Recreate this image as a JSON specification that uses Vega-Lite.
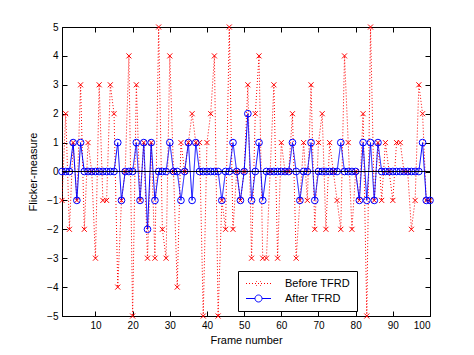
{
  "$schema": "https://vega.github.io/schema/vega-lite/v6.json",
  "width": 368,
  "height": 289,
  "autosize": {"type": "none"},
  "padding": {"left": 62, "top": 27, "right": 44, "bottom": 39},
  "background": "white",
  "config": {
    "view": {"stroke": "black", "strokeWidth": 1},
    "font": "Liberation Sans",
    "axis": {
      "grid": false,
      "domainColor": "black",
      "tickColor": "black",
      "labelColor": "black",
      "titleColor": "black",
      "labelFont": "Liberation Sans",
      "titleFont": "Liberation Sans",
      "labelFontSize": 10,
      "titleFontSize": 11,
      "titleFontWeight": "normal",
      "tickSize": -5,
      "labelPadding": 9
    }
  },
  "data": {
    "values": [
      {"frame": 1, "Before TFRD": -1, "After TFRD": 0},
      {"frame": 2, "Before TFRD": 2, "After TFRD": 0},
      {"frame": 3, "Before TFRD": -2, "After TFRD": 0},
      {"frame": 4, "Before TFRD": 1, "After TFRD": 1},
      {"frame": 5, "Before TFRD": -1, "After TFRD": -1},
      {"frame": 6, "Before TFRD": 3, "After TFRD": 1},
      {"frame": 7, "Before TFRD": -2, "After TFRD": 0},
      {"frame": 8, "Before TFRD": 1, "After TFRD": 0},
      {"frame": 9, "Before TFRD": 0, "After TFRD": 0},
      {"frame": 10, "Before TFRD": -3, "After TFRD": 0},
      {"frame": 11, "Before TFRD": 3, "After TFRD": 0},
      {"frame": 12, "Before TFRD": -1, "After TFRD": 0},
      {"frame": 13, "Before TFRD": -1, "After TFRD": 0},
      {"frame": 14, "Before TFRD": 3, "After TFRD": 0},
      {"frame": 15, "Before TFRD": 2, "After TFRD": 0},
      {"frame": 16, "Before TFRD": -4, "After TFRD": 1},
      {"frame": 17, "Before TFRD": -1, "After TFRD": -1},
      {"frame": 18, "Before TFRD": 0, "After TFRD": 0},
      {"frame": 19, "Before TFRD": 4, "After TFRD": 0},
      {"frame": 20, "Before TFRD": -5, "After TFRD": 0},
      {"frame": 21, "Before TFRD": 3, "After TFRD": 1},
      {"frame": 22, "Before TFRD": -1, "After TFRD": -1},
      {"frame": 23, "Before TFRD": 1, "After TFRD": 1},
      {"frame": 24, "Before TFRD": -3, "After TFRD": -2},
      {"frame": 25, "Before TFRD": 1, "After TFRD": 1},
      {"frame": 26, "Before TFRD": -3, "After TFRD": -1},
      {"frame": 27, "Before TFRD": 5, "After TFRD": 0},
      {"frame": 28, "Before TFRD": -2, "After TFRD": 0},
      {"frame": 29, "Before TFRD": -3, "After TFRD": 0},
      {"frame": 30, "Before TFRD": 4, "After TFRD": 1},
      {"frame": 31, "Before TFRD": 0, "After TFRD": 0},
      {"frame": 32, "Before TFRD": -4, "After TFRD": 0},
      {"frame": 33, "Before TFRD": 1, "After TFRD": -1},
      {"frame": 34, "Before TFRD": 0, "After TFRD": 0},
      {"frame": 35, "Before TFRD": 1, "After TFRD": 1},
      {"frame": 36, "Before TFRD": 2, "After TFRD": -1},
      {"frame": 37, "Before TFRD": 1, "After TFRD": 1},
      {"frame": 38, "Before TFRD": 1, "After TFRD": 0},
      {"frame": 39, "Before TFRD": -5, "After TFRD": 0},
      {"frame": 40, "Before TFRD": 1, "After TFRD": 0},
      {"frame": 41, "Before TFRD": 2, "After TFRD": 0},
      {"frame": 42, "Before TFRD": 4, "After TFRD": 0},
      {"frame": 43, "Before TFRD": -5, "After TFRD": 0},
      {"frame": 44, "Before TFRD": -1, "After TFRD": -1},
      {"frame": 45, "Before TFRD": -2, "After TFRD": 0},
      {"frame": 46, "Before TFRD": 5, "After TFRD": 0},
      {"frame": 47, "Before TFRD": -2, "After TFRD": 1},
      {"frame": 48, "Before TFRD": 0, "After TFRD": 0},
      {"frame": 49, "Before TFRD": -1, "After TFRD": -1},
      {"frame": 50, "Before TFRD": 0, "After TFRD": 0},
      {"frame": 51, "Before TFRD": 3, "After TFRD": 2},
      {"frame": 52, "Before TFRD": -3, "After TFRD": -1},
      {"frame": 53, "Before TFRD": 2, "After TFRD": 0},
      {"frame": 54, "Before TFRD": 4, "After TFRD": 1},
      {"frame": 55, "Before TFRD": -3, "After TFRD": -1},
      {"frame": 56, "Before TFRD": -3, "After TFRD": 0},
      {"frame": 57, "Before TFRD": 0, "After TFRD": 0},
      {"frame": 58, "Before TFRD": 3, "After TFRD": 0},
      {"frame": 59, "Before TFRD": -3, "After TFRD": 0},
      {"frame": 60, "Before TFRD": 1, "After TFRD": 0},
      {"frame": 61, "Before TFRD": 0, "After TFRD": 0},
      {"frame": 62, "Before TFRD": 0, "After TFRD": 0},
      {"frame": 63, "Before TFRD": 2, "After TFRD": 1},
      {"frame": 64, "Before TFRD": -3, "After TFRD": 0},
      {"frame": 65, "Before TFRD": -1, "After TFRD": -1},
      {"frame": 66, "Before TFRD": 1, "After TFRD": 0},
      {"frame": 67, "Before TFRD": -1, "After TFRD": 0},
      {"frame": 68, "Before TFRD": 3, "After TFRD": 1},
      {"frame": 69, "Before TFRD": -2, "After TFRD": -1},
      {"frame": 70, "Before TFRD": 1, "After TFRD": 0},
      {"frame": 71, "Before TFRD": 2, "After TFRD": 0},
      {"frame": 72, "Before TFRD": -2, "After TFRD": 0},
      {"frame": 73, "Before TFRD": 1, "After TFRD": 0},
      {"frame": 74, "Before TFRD": 0, "After TFRD": 0},
      {"frame": 75, "Before TFRD": -1, "After TFRD": 0},
      {"frame": 76, "Before TFRD": -2, "After TFRD": 1},
      {"frame": 77, "Before TFRD": 4, "After TFRD": 0},
      {"frame": 78, "Before TFRD": 1, "After TFRD": 0},
      {"frame": 79, "Before TFRD": -2, "After TFRD": 0},
      {"frame": 80, "Before TFRD": 0, "After TFRD": 0},
      {"frame": 81, "Before TFRD": -1, "After TFRD": -1},
      {"frame": 82, "Before TFRD": 2, "After TFRD": 1},
      {"frame": 83, "Before TFRD": -5, "After TFRD": -1},
      {"frame": 84, "Before TFRD": 5, "After TFRD": 1},
      {"frame": 85, "Before TFRD": -1, "After TFRD": -1},
      {"frame": 86, "Before TFRD": 1, "After TFRD": 1},
      {"frame": 87, "Before TFRD": -1, "After TFRD": 0},
      {"frame": 88, "Before TFRD": 1, "After TFRD": 0},
      {"frame": 89, "Before TFRD": 0, "After TFRD": 0},
      {"frame": 90, "Before TFRD": -1, "After TFRD": 0},
      {"frame": 91, "Before TFRD": 1, "After TFRD": 0},
      {"frame": 92, "Before TFRD": 1, "After TFRD": 0},
      {"frame": 93, "Before TFRD": 0, "After TFRD": 0},
      {"frame": 94, "Before TFRD": 0, "After TFRD": 0},
      {"frame": 95, "Before TFRD": -2, "After TFRD": 0},
      {"frame": 96, "Before TFRD": -1, "After TFRD": 0},
      {"frame": 97, "Before TFRD": 3, "After TFRD": 0},
      {"frame": 98, "Before TFRD": 2, "After TFRD": 1},
      {"frame": 99, "Before TFRD": -1, "After TFRD": -1},
      {"frame": 100, "Before TFRD": -1, "After TFRD": -1}
    ]
  },
  "transform": [{"fold": ["Before TFRD", "After TFRD"], "as": ["series", "value"]}],
  "resolve": {"axis": {"x": "independent", "y": "independent"}},
  "layer": [
    {
      "mark": {"type": "line", "strokeWidth": 1, "clip": true},
      "encoding": {
        "x": {
          "field": "frame", "type": "quantitative",
          "scale": {"domain": [1, 100], "nice": false, "zero": false},
          "axis": {"values": [10, 20, 30, 40, 50, 60, 70, 80, 90, 100], "title": "Frame number", "titlePadding": 4}
        },
        "y": {
          "field": "value", "type": "quantitative",
          "scale": {"domain": [-5, 5], "nice": false},
          "axis": {"values": [-5, -4, -3, -2, -1, 0, 1, 2, 3, 4, 5], "title": "Flicker-measure", "titlePadding": 8}
        },
        "color": {
          "field": "series", "type": "nominal",
          "scale": {"domain": ["Before TFRD", "After TFRD"], "range": ["#ff0000", "#0000ff"]},
          "legend": {
            "orient": "none",
            "legendX": 176,
            "legendY": 244,
            "title": null,
            "strokeColor": "black",
            "fillColor": "white",
            "padding": 7,
            "rowPadding": 3,
            "labelFontSize": 11,
            "labelFont": "Liberation Sans",
            "labelColor": "black",
            "symbolSize": 100,
            "symbolOffset": 8,
            "symbolStrokeWidth": 1,
            "labelOffset": 21,
            "labelLimit": 200,
            "encode": {
              "symbols": {
                "update": {
                  "shape": {"signal": "datum.value === 'Before TFRD' ? 'M-2.5,0L2.5,0M-0.5,-0.5L0.5,0.5M-0.5,0.5L0.5,-0.5' : 'M-2.5,0L-0.7,0M0.7,0L2.5,0M0.7,0A0.7,0.7,0,1,1,-0.7,0A0.7,0.7,0,1,1,0.7,0'"},
                  "fill": {"value": "transparent"}
                }
              }
            }
          }
        },
        "strokeDash": {
          "field": "series", "type": "nominal",
          "scale": {"domain": ["Before TFRD", "After TFRD"], "range": [[1, 2], [1, 0]]},
          "legend": null
        }
      }
    },
    {
      "transform": [{"filter": {"field": "series", "equal": "Before TFRD"}}],
      "mark": {"type": "point", "shape": "M-1,-1L1,1M-1,1L1,-1", "size": 25, "stroke": "#ff0000", "filled": false, "strokeWidth": 1, "opacity": 1},
      "encoding": {
        "x": {"field": "frame", "type": "quantitative", "axis": null},
        "y": {"field": "value", "type": "quantitative", "axis": null}
      }
    },
    {
      "transform": [{"filter": {"field": "series", "equal": "After TFRD"}}],
      "mark": {"type": "point", "shape": "circle", "size": 45, "stroke": "#0000ff", "filled": false, "strokeWidth": 1, "opacity": 1},
      "encoding": {
        "x": {"field": "frame", "type": "quantitative", "axis": null},
        "y": {"field": "value", "type": "quantitative", "axis": null}
      }
    },
    {
      "mark": {"type": "rule", "color": "black", "strokeWidth": 1},
      "encoding": {
        "x": {"datum": 1, "type": "quantitative", "axis": {"orient": "top", "labels": false, "title": null, "domain": false, "values": [10, 20, 30, 40, 50, 60, 70, 80, 90, 100]}},
        "x2": {"datum": 100},
        "y": {"datum": 0, "type": "quantitative", "axis": {"orient": "right", "labels": false, "title": null, "domain": false, "values": [-5, -4, -3, -2, -1, 0, 1, 2, 3, 4, 5]}}
      }
    }
  ]
}
